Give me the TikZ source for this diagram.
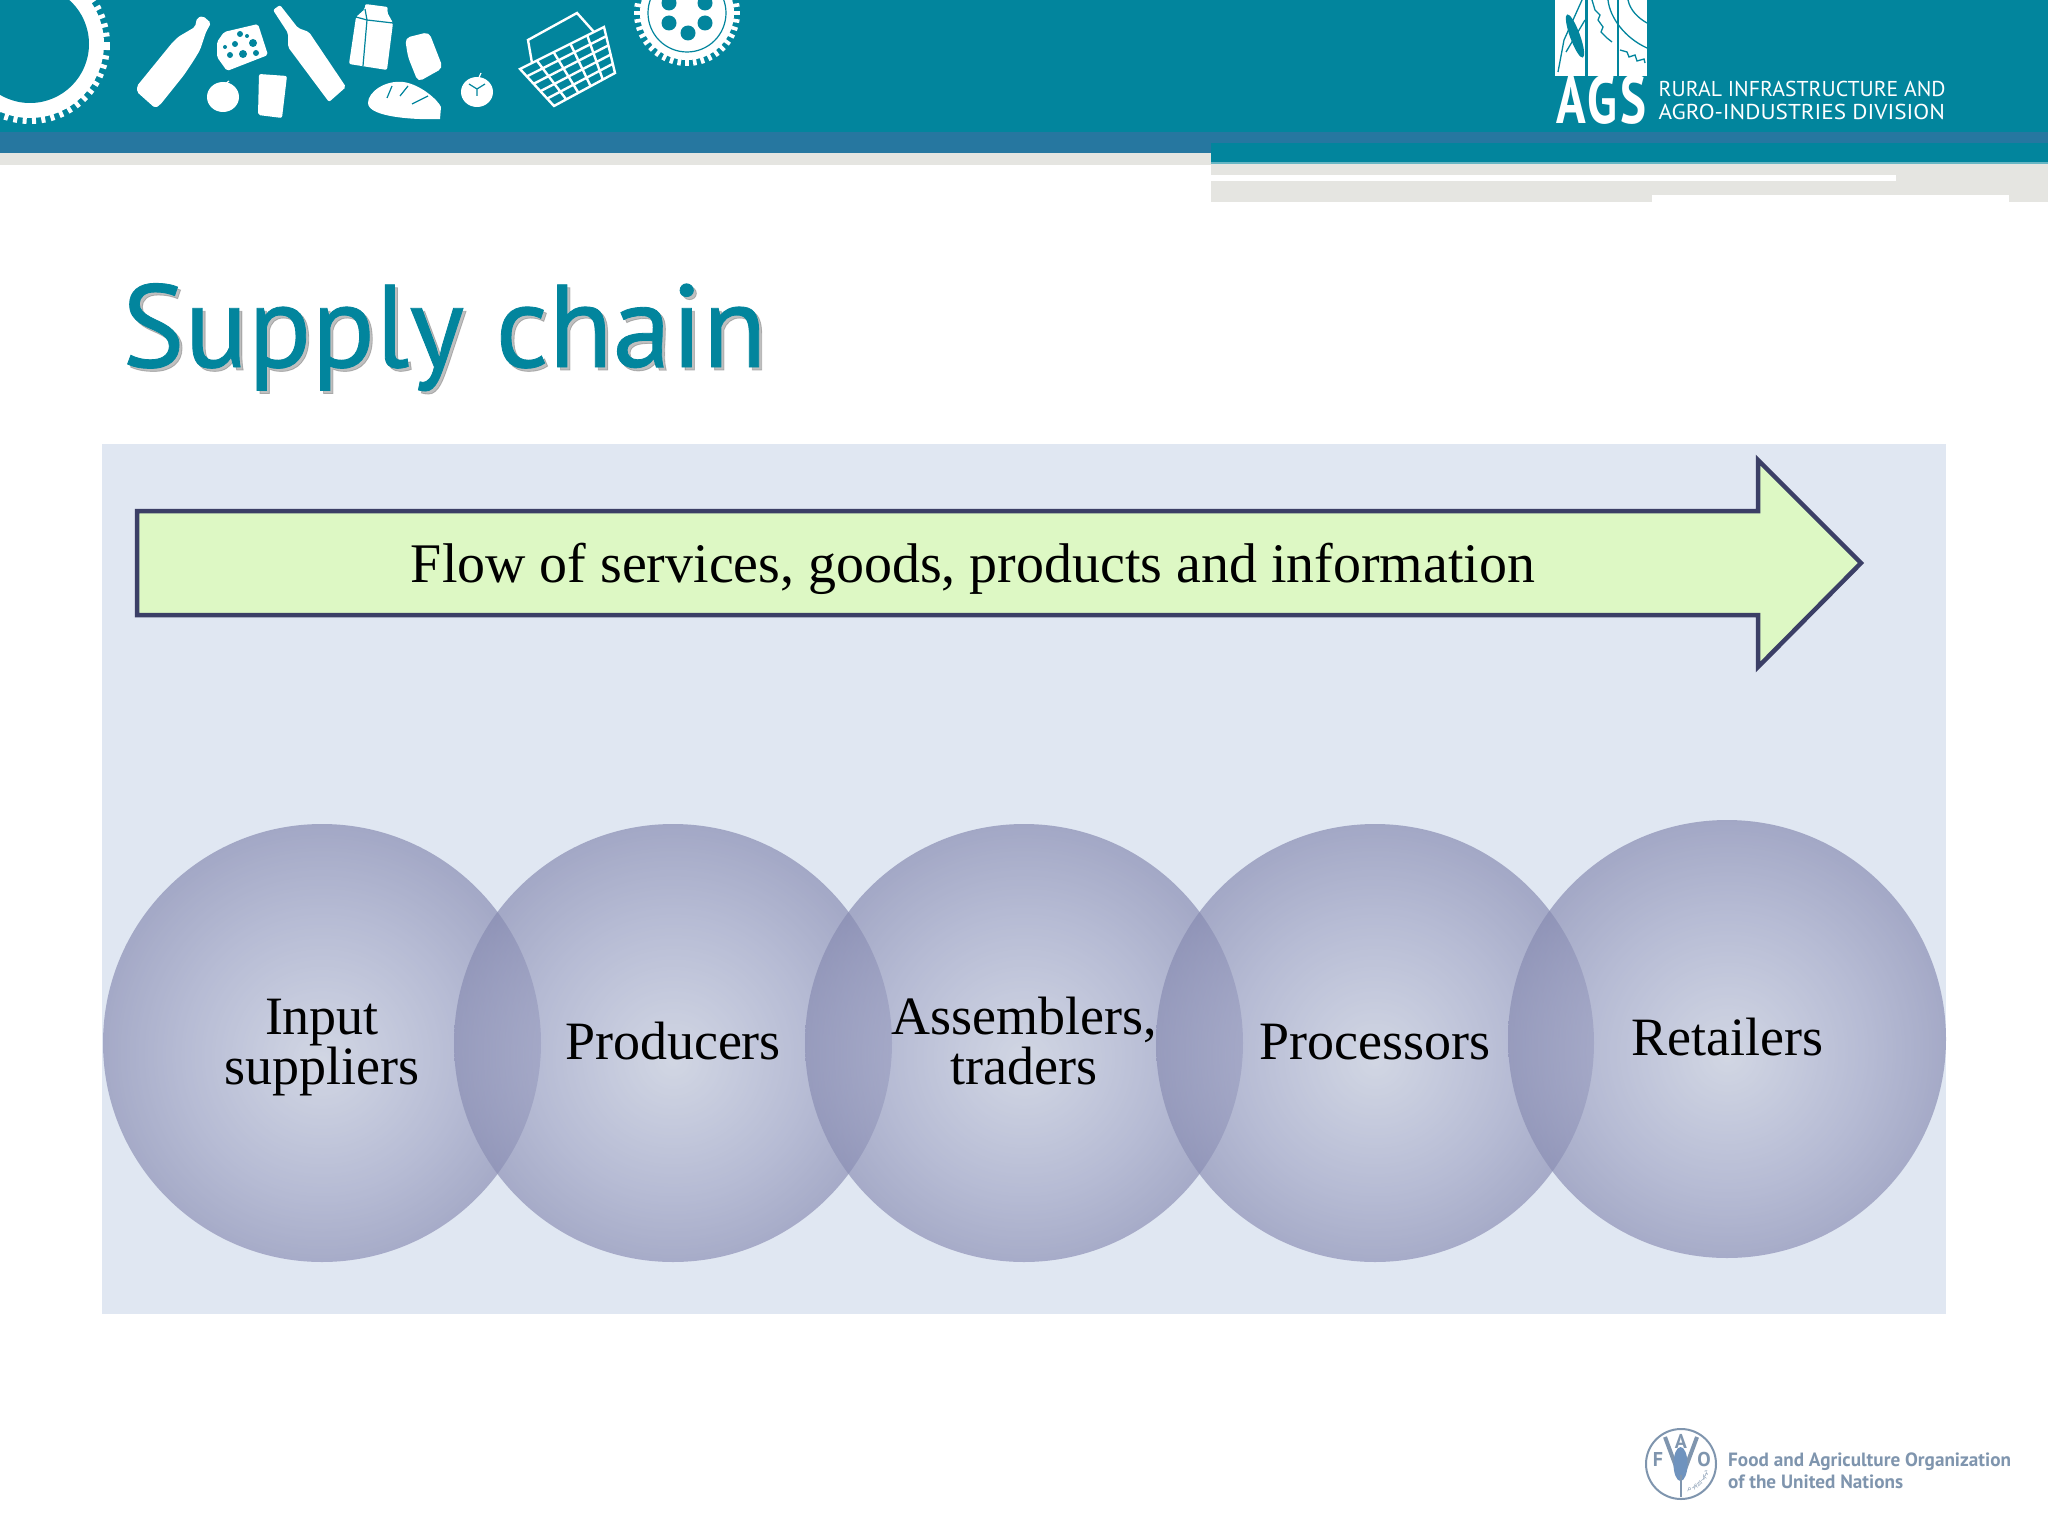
\documentclass[tikz,border=0pt]{standalone}
\usepackage{fontspec}
\setmainfont{Liberation Serif}
\newfontfamily\titlefont[FakeBold=0.7]{PT Sans}
\newfontfamily\labelfont{PT Sans}
\usetikzlibrary{calc}

\definecolor{headteal}{HTML}{02859D}
\definecolor{headblue}{HTML}{2677A0}
\definecolor{headgrey}{HTML}{E5E5E1}
\definecolor{panelblue}{HTML}{E0E7F2}
\definecolor{arrowgreen}{HTML}{DDF8C4}
\definecolor{arrowline}{HTML}{3B3F66}
\definecolor{faogrey}{HTML}{7F95AE}
\definecolor{faoblue}{HTML}{6F93BE}
\definecolor{bubblein}{HTML}{CBCFDD}
\definecolor{bubblemid}{HTML}{A9ADCB}
\definecolor{bubbleout}{HTML}{8589B0}

\pgfdeclareradialshading{bubbleshade}{\pgfpoint{0bp}{-2bp}}{%
  color(0bp)=(bubblein); color(8bp)=(bubblemid!60!bubblein);
  color(16bp)=(bubblemid!80!bubbleout); color(26bp)=(bubbleout); color(50bp)=(bubbleout)}

\newcommand{\bubbletop}{\rule{0pt}{47pt}}
\newcommand{\bubblebot}{\rule[-15pt]{0pt}{15pt}}

\tikzset{
  bubble/.style={circle, minimum size=438pt, inner sep=0pt, align=center, shading=bubbleshade,
    fill opacity=0.67, text opacity=1, font=\fontsize{54}{50}\selectfont},
  food/.style={fill=white, rounded corners=2pt},
  foodmark/.style={draw=headteal, line width=1.2pt},
  basketline/.style={draw=white, line width=2.4pt},
  agsmark/.style={draw=headteal, line width=1.3pt},
  agsletter/.style={text=white, anchor=base, inner sep=0pt, font=\labelfont\bfseries\fontsize{68}{68}\selectfont},
  agstext/.style={text=white, anchor=base west, inner sep=0pt, font=\labelfont\fontsize{21.5}{22}\selectfont},
  faotext/.style={text=faogrey, anchor=base west, inner sep=0pt, font=\labelfont\bfseries\fontsize{19.2}{22}\selectfont},
  faoletter/.style={text=faogrey, inner sep=0pt, font=\labelfont\bfseries\fontsize{20}{20}\selectfont},
  faosmall/.style={text=faogrey, inner sep=0pt, font=\labelfont\fontsize{6}{6}\selectfont},
}

\newcommand{\gearwheel}[5]{% centre, body radius, tooth radius, tooth angle, tooth half width
  \fill[white] #1 circle (#2);
  \foreach \a in {0,#4,...,359}
    \fill[white, shift={#1}, rotate=\a] (#2-1,-#5) rectangle (#3,#5);
}

\begin{document}
\begin{tikzpicture}[x=1pt,y=-1pt]
  \useasboundingbox (0,0) rectangle (2048,1536);
  \clip (0,0) rectangle (2048,1536);
  \fill[white] (0,0) rectangle (2048,1536);

  % header
  \fill[headteal] (0,0) rectangle (2048,132);
  \fill[headblue] (0,132) rectangle (2048,153);
  \fill[headgrey] (0,153) rectangle (1211,165);
  \fill[headteal] (1211,143) rectangle (2048,162);
  \fill[headteal!60!white] (1211,162) rectangle (2048,164);
  \fill[headgrey] (1211,164) rectangle (2048,202);
  \fill[white] (1211,175) rectangle (1896,181);
  \fill[white] (1652,195) rectangle (2009,202);

  % gears
  \gearwheel{(30,44)}{74}{80}{7}{2}
  \fill[headteal] (30,44) circle (59);
  \gearwheel{(687,13)}{47}{53}{9}{1.8}
  \draw[headteal, line width=1.2pt] (687,13) circle (39);
  \foreach \hx/\hy in {688/33,669/23,705/23,669/3,705/3}
    \fill[headteal] (\hx,\hy) circle (7.5);

  % first bottle
  \fill[food] (197,18) -- (203,16) -- (211,23) -- (206,32) -- (200,50) -- (194,60) -- (184,75)
    -- (160,105) -- (155,108) -- (137,92) -- (137,86) -- (172,43) -- (178,37) -- (195,27) -- cycle;
  % cheese
  \fill[food] (258,24) -- (268,55) -- (227,71) -- (217,57) -- (217,42) -- (224,32) -- cycle;
  \foreach \hx/\hy/\hr in {240/34/3,253/43/4,235/44/3,256/53/3,230/55/3,243/54/4,225/47/2,247/36/2}
    \fill[headteal] (\hx,\hy) circle (\hr);
  % second bottle
  \fill[food] (273,10) -- (280,5) -- (298,28) -- (309,32) -- (346,87) -- (329,102) -- (288,47)
    -- (288,33) -- cycle;
  % carton
  \fill[food] (365,4) -- (388,7) -- (387,12) -- (393,23) -- (387,70) -- (349,64) -- (356,17) -- (365,9) -- cycle;
  \draw[foodmark] (363,66) -- (367,20) -- (356,17) (367,20) -- (393,23) (365,9) -- (367,20);
  % can
  \fill[food, rounded corners=5pt] (405,38) -- (429,32) -- (443,68) -- (418,82) -- (408,57) -- cycle;
  % apple
  \fill[white] (223,97) ellipse (16 and 15);
  \draw[foodmark, draw=white] (224,85) -- (229,81);
  % glass
  \fill[food] (259,74) -- (287,76) -- (282,118) -- (258,115) -- cycle;
  % bread
  \fill[white] (368,103) .. controls (368,92) and (385,80) .. (403,82)
    .. controls (420,84) and (438,100) .. (441,107) -- (440,119)
    .. controls (420,120) and (368,118) .. (368,103) -- cycle;
  \draw[foodmark] (387,98) -- (392,86) (400,96) -- (408,86) (412,104) -- (428,96);
  % tomato
  \fill[white] (477,92) ellipse (16 and 15);
  \draw[foodmark] (469,84) -- (477,89) -- (485,84) (477,89) -- (477,96);
  \draw[white, line width=1.2pt] (477,82) -- (481,73);
  % basket
  \coordinate (basa) at (520,69);
  \coordinate (basb) at (604,27);
  \coordinate (basc) at (615,73);
  \coordinate (basd) at (554,106);
  \draw[basketline] (basa) -- (basb) -- (basc) -- (basd) -- cycle;
  \foreach \t in {0.2,0.4,0.6,0.8} {
    \draw[basketline] ($(basa)!\t!(basb)$) -- ($(basd)!\t!(basc)$);
    \draw[basketline] ($(basa)!\t!(basd)$) -- ($(basb)!\t!(basc)$);
  }
  \draw[basketline] (532,63) -- (528,40) -- (577,13) -- (594,32);

  % AGS logo
  \fill[white] (1555,0) rectangle (1585,76);
  \fill[white] (1588,0) rectangle (1617,76);
  \fill[white] (1619,0) rectangle (1647,76);
  \fill[headteal, rotate around={20:(1575,36)}] (1575,36) ellipse (5 and 23);
  \draw[agsmark] (1558,72) -- (1564,40) -- (1582,0) (1585,20) -- (1566,52);
  \draw[agsmark] (1592,0) -- (1595,10) -- (1600,15) -- (1598,20) -- (1603,27) -- (1601,32) -- (1607,38) -- (1612,42);
  \draw[agsmark] (1608,0) .. controls (1610,18) and (1625,38) .. (1647,48);
  \draw[agsmark] (1628,0) .. controls (1630,10) and (1638,18) .. (1647,23);
  \draw[agsmark] (1620,50) -- (1627,52) -- (1629,57) -- (1635,55) -- (1637,61) -- (1644,59) -- (1645,63);
  \node[agsletter] (agsa) at (1571,124) {\scalebox{0.72}[1]{A}};
  \node[agsletter] (agsg) at (1602.5,124) {\scalebox{0.72}[1]{G}};
  \node[agsletter] (agss) at (1633,124) {\scalebox{0.72}[1]{S}};
  \node[agstext] (agsone) at (1658.5,97) {\scalebox{1.01}[1]{RURAL INFRASTRUCTURE AND}};
  \node[agstext] (agstwo) at (1658.5,120) {\scalebox{1.08}[1]{AGRO-INDUSTRIES DIVISION}};

  % title
  \node[anchor=base west, inner sep=0pt, text=black!55, opacity=0.45, font=\titlefont\fontsize{117.5}{120}\selectfont] (titleshadow) at (125,370) {Supply chain};
  \node[anchor=base west, inner sep=0pt, text=headteal, font=\titlefont\fontsize{117.5}{120}\selectfont] (title) at (122,367) {Supply chain};

  % panel and arrow
  \fill[panelblue] (102,444) rectangle (1946,1314);
  \draw[fill=arrowgreen, draw=arrowline, line width=4.5pt, miter limit=6]
    (137,511) -- (1758,511) -- (1758,460) -- (1861,563) -- (1758,667) -- (1758,615) -- (137,615) -- cycle;
  \node[anchor=base, inner sep=0pt, font=\fontsize{55.9}{56}\selectfont] (flow) at (973,582) {Flow of services, goods, products and information};

  % circles
  \node[bubble] (inputs) at (322,1043) {\bubbletop Input\\suppliers\bubblebot};
  \node[bubble] (producers) at (673,1043) {\bubbletop Producers\bubblebot};
  \node[bubble] (assemblers) at (1024,1043) {\bubbletop Assemblers,\\traders\bubblebot};
  \node[bubble] (processors) at (1375,1043) {\bubbletop Processors\bubblebot};
  \node[bubble] (retailers) at (1727,1039) {\bubbletop Retailers\bubblebot};

  % FAO logo
  \draw[faogrey, line width=2pt] (1681,1464) circle (35);
  \draw[faogrey, line width=4pt] (1665,1437) -- (1678,1472);
  \draw[faogrey, line width=4pt] (1697,1437) -- (1684,1472);
  \fill[faoblue] (1680.5,1464) ellipse (7 and 17);
  \draw[faogrey, line width=1.5pt] (1681,1475) -- (1681,1497);
  \node[faoletter] (faof) at (1658,1459) {F};
  \node[faoletter] (faoa) at (1681,1441) {A};
  \node[faoletter] (faoo) at (1704,1459) {O};
  \foreach \ltr/\ang in {F/145,I/133,A/121,T/109}
    \node[faosmall, rotate=\ang-90] (fiat\ltr) at ($(1681,1464)+(\ang+90:-27)$) {\ltr};
  \foreach \ltr/\ang in {P/72,A/60,N/48,I/36,S/24}
    \node[faosmall, rotate=\ang-90] (panis\ltr) at ($(1681,1464)+(\ang:27)$) {\ltr};
  \node[faotext] (faoone) at (1728,1466) {Food and Agriculture Organization};
  \node[faotext] (faotwo) at (1728,1488) {of the United Nations};
\end{tikzpicture}
\end{document}
